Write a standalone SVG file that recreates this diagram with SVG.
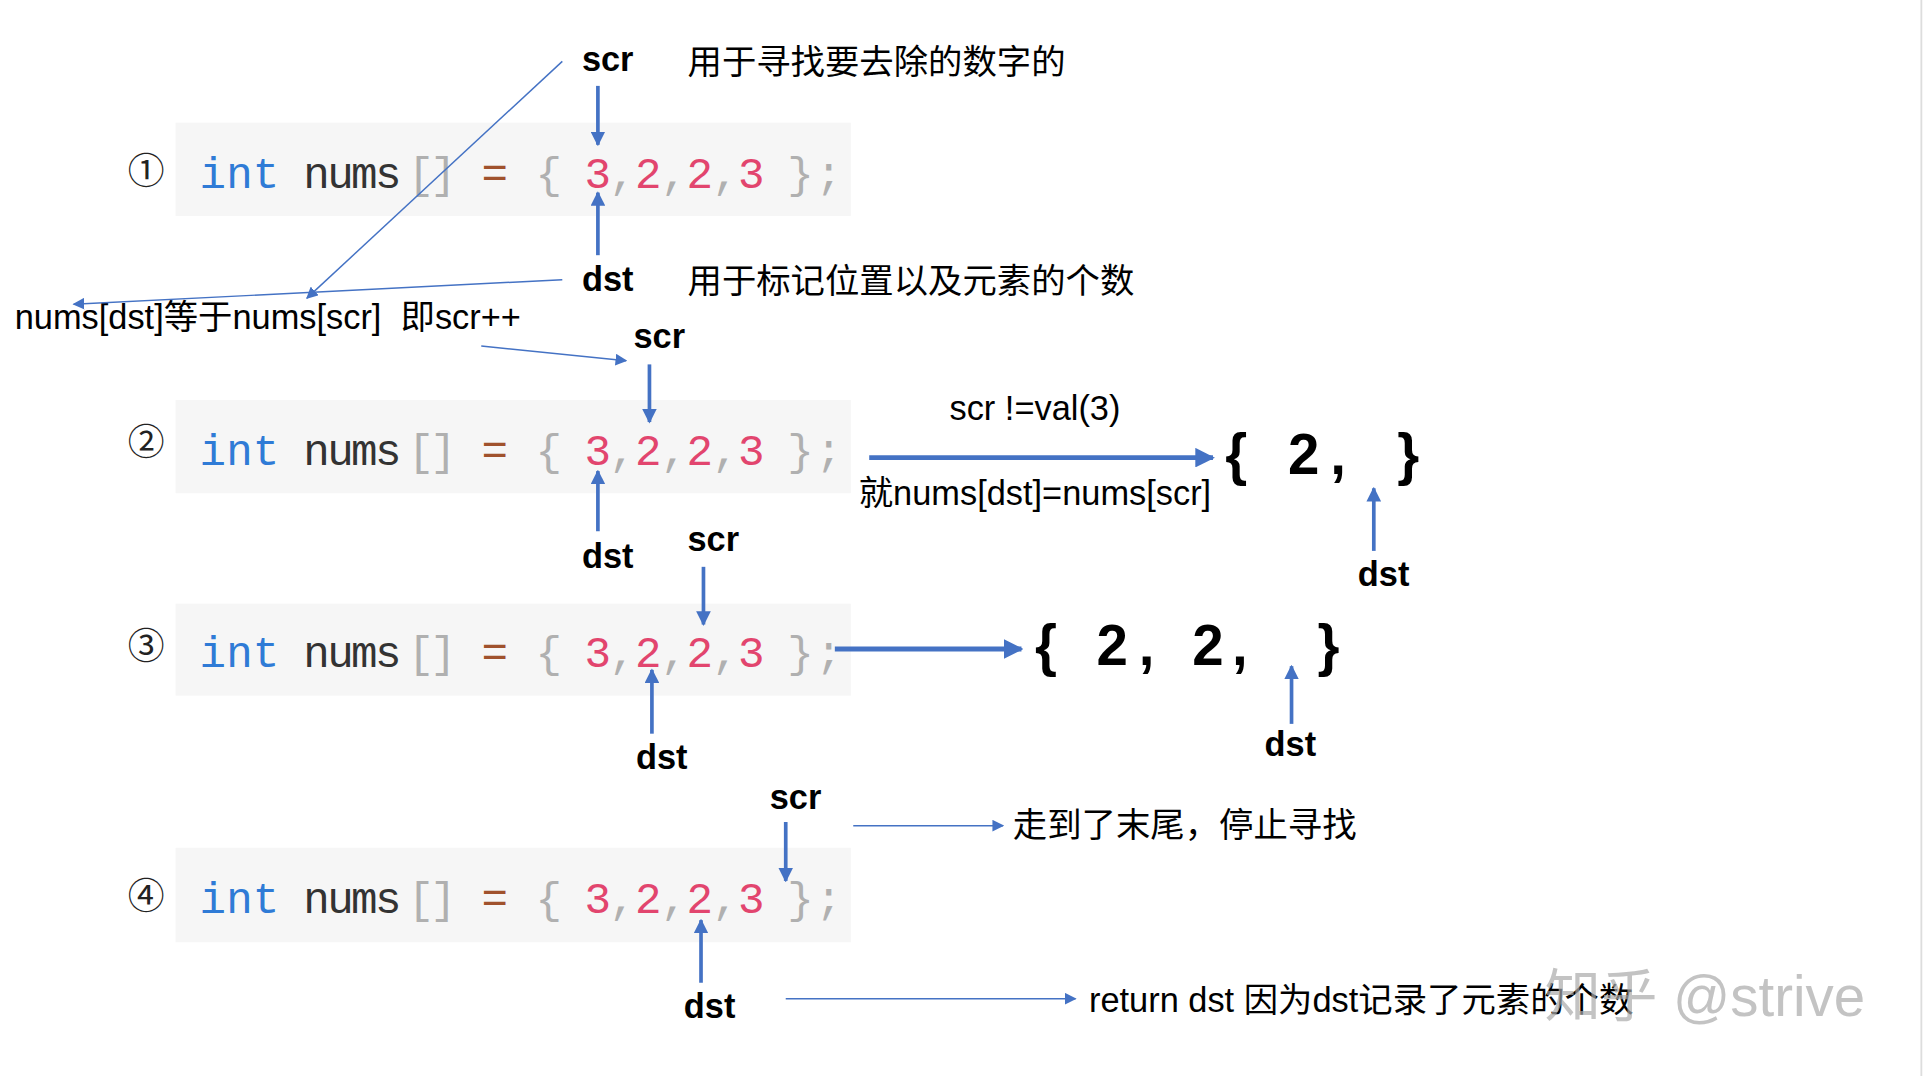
<svg xmlns="http://www.w3.org/2000/svg" width="1925" height="1076" viewBox="0 0 1925 1076">
<style>
.box{fill:#f6f6f6}
.lbl{font:bold 28px "Liberation Sans",Arial,sans-serif;fill:#000;text-anchor:middle}
.cn{font:28px "Liberation Sans","Noto Sans CJK SC",sans-serif;fill:#000}
.code{font:36px "Liberation Mono","DejaVu Sans Mono",monospace;text-anchor:middle}
.kw{fill:#2f7bd6}.nm{fill:#333}.gr{fill:#b0b0b0}.eq{fill:#a0522d}.num{fill:#e2456e}
.circ{font:30px "Liberation Sans","Noto Sans CJK SC",sans-serif;fill:#222;text-anchor:middle}
.big{font:bold 46px "Liberation Sans",Arial,sans-serif;fill:#000;text-anchor:middle}
.a{stroke:#4472c4;stroke-width:3;fill:none;marker-end:url(#ah)}
.t{stroke:#4472c4;stroke-width:1.2;fill:none;marker-end:url(#ahs)}
.k{stroke:#4472c4;stroke-width:4;fill:none;marker-end:url(#ah)}
</style>
<defs>
<marker id="ah" viewBox="0 0 10 10" refX="9" refY="5" markerWidth="4" markerHeight="4" orient="auto" markerUnits="strokeWidth"><path d="M0,0L10,5L0,10z" fill="#4472c4"/></marker>
<marker id="ahs" viewBox="0 0 10 10" refX="9" refY="5" markerWidth="8" markerHeight="8" orient="auto" markerUnits="strokeWidth"><path d="M0,0L10,5L0,10z" fill="#4472c4"/></marker>
</defs>
<rect width="1925" height="1076" fill="#fff"/>
<g transform="scale(1.2277,1.2269)">
<line x1="1565" y1="0" x2="1565" y2="877" stroke="#ddd" stroke-width="1.5"/>
<g id="code1"><rect class="box" x="143" y="100" width="550" height="76"/><text class="circ" x="119" y="150">①</text>
<g class="code"><text class="kw" x="195" y="153">int</text><text class="nm" x="287" y="153" textLength="80">nums</text><text class="gr" x="343" y="153">[</text><text class="gr" x="361" y="153">]</text><text class="eq" x="403" y="153">=</text><text class="gr" x="447" y="153">{</text><text class="num" x="487" y="153">3</text><text class="gr" x="507" y="153">,</text><text class="num" x="528" y="153">2</text><text class="gr" x="549" y="153">,</text><text class="num" x="570" y="153">2</text><text class="gr" x="591" y="153">,</text><text class="num" x="612" y="153">3</text><text class="gr" x="652" y="153">}</text><text class="gr" x="675" y="153">;</text></g></g>
<g id="code2"><rect class="box" x="143" y="326" width="550" height="76"/><text class="circ" x="119" y="371">②</text>
<g class="code"><text class="kw" x="195" y="379">int</text><text class="nm" x="287" y="379" textLength="80">nums</text><text class="gr" x="343" y="379">[</text><text class="gr" x="361" y="379">]</text><text class="eq" x="403" y="379">=</text><text class="gr" x="447" y="379">{</text><text class="num" x="487" y="379">3</text><text class="gr" x="507" y="379">,</text><text class="num" x="528" y="379">2</text><text class="gr" x="549" y="379">,</text><text class="num" x="570" y="379">2</text><text class="gr" x="591" y="379">,</text><text class="num" x="612" y="379">3</text><text class="gr" x="652" y="379">}</text><text class="gr" x="675" y="379">;</text></g></g>
<g id="code3"><rect class="box" x="143" y="492" width="550" height="75"/><text class="circ" x="119" y="537">③</text>
<g class="code"><text class="kw" x="195" y="544">int</text><text class="nm" x="287" y="544" textLength="80">nums</text><text class="gr" x="343" y="544">[</text><text class="gr" x="361" y="544">]</text><text class="eq" x="403" y="544">=</text><text class="gr" x="447" y="544">{</text><text class="num" x="487" y="544">3</text><text class="gr" x="507" y="544">,</text><text class="num" x="528" y="544">2</text><text class="gr" x="549" y="544">,</text><text class="num" x="570" y="544">2</text><text class="gr" x="591" y="544">,</text><text class="num" x="612" y="544">3</text><text class="gr" x="652" y="544">}</text><text class="gr" x="675" y="544">;</text></g></g>
<g id="code4"><rect class="box" x="143" y="691" width="550" height="77"/><text class="circ" x="119" y="741">④</text>
<g class="code"><text class="kw" x="195" y="744">int</text><text class="nm" x="287" y="744" textLength="80">nums</text><text class="gr" x="343" y="744">[</text><text class="gr" x="361" y="744">]</text><text class="eq" x="403" y="744">=</text><text class="gr" x="447" y="744">{</text><text class="num" x="487" y="744">3</text><text class="gr" x="507" y="744">,</text><text class="num" x="528" y="744">2</text><text class="gr" x="549" y="744">,</text><text class="num" x="570" y="744">2</text><text class="gr" x="591" y="744">,</text><text class="num" x="612" y="744">3</text><text class="gr" x="652" y="744">}</text><text class="gr" x="675" y="744">;</text></g></g>
<g id="labels">
<text class="lbl" x="495" y="58">scr</text><text class="cn" x="560" y="60">用于寻找要去除的数字的</text>
<text class="lbl" x="495" y="237">dst</text><text class="cn" x="560" y="239">用于标记位置以及元素的个数</text>
<text class="cn" x="12" y="268" xml:space="preserve">nums[dst]等于nums[scr]  即scr++</text>
<text class="lbl" x="537" y="284">scr</text>
<text class="lbl" x="495" y="463">dst</text>
<text class="cn" x="843" y="342" text-anchor="middle">scr !=val(3)</text>
<text class="cn" x="843" y="412" text-anchor="middle">就nums[dst]=nums[scr]</text>
<text class="big" x="1007" y="386">{</text><text class="big" x="1062" y="386">2</text><text class="big" x="1090" y="386">,</text><text class="big" x="1147" y="386">}</text>
<text class="lbl" x="1127" y="478">dst</text>
<text class="lbl" x="581" y="449">scr</text>
<text class="lbl" x="539" y="627">dst</text>
<text class="big" x="852" y="542">{</text><text class="big" x="906" y="542">2</text><text class="big" x="934" y="542">,</text><text class="big" x="984" y="542">2</text><text class="big" x="1010" y="542">,</text><text class="big" x="1082" y="542">}</text>
<text class="lbl" x="1051" y="616">dst</text>
<text class="lbl" x="648" y="659">scr</text>
<text class="cn" x="825" y="682">走到了末尾，停止寻找</text>
<text class="lbl" x="578" y="830">dst</text>
<text class="cn" x="887" y="825">return dst 因为dst记录了元素的个数</text>
<text x="1258" y="828" font-family="'Liberation Sans','Noto Sans CJK SC',sans-serif" font-size="46" fill="#aaa" fill-opacity="0.7">知乎 @strive</text>
</g>
<g id="connectors">
<line class="a" x1="487" y1="70" x2="487" y2="118"/>
<line class="a" x1="487" y1="208" x2="487" y2="157"/>
<line class="t" x1="458" y1="50" x2="250" y2="243"/>
<line class="t" x1="458" y1="228" x2="60" y2="248"/>
<line class="t" x1="392" y1="282" x2="510" y2="294"/>
<line class="a" x1="529" y1="297" x2="529" y2="344"/>
<line class="a" x1="487" y1="433" x2="487" y2="384"/>
<line class="k" x1="708" y1="373" x2="988" y2="373"/>
<line class="a" x1="1119" y1="449" x2="1119" y2="398"/>
<line class="a" x1="573" y1="462" x2="573" y2="509"/>
<line class="a" x1="531" y1="598" x2="531" y2="546"/>
<line class="k" x1="680" y1="529" x2="832" y2="529"/>
<line class="a" x1="1052" y1="590" x2="1052" y2="543"/>
<line class="a" x1="640" y1="670" x2="640" y2="718"/>
<line class="a" x1="571" y1="801" x2="571" y2="750"/>
<line class="t" x1="695" y1="673" x2="817" y2="673"/>
<line class="t" x1="640" y1="814" x2="876" y2="814"/>
</g>
</g>
</svg>
